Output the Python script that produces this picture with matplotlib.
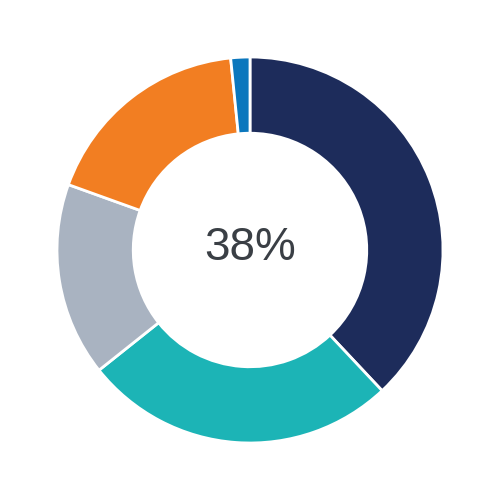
import matplotlib.pyplot as plt

# share of each slice, clockwise from the top
labels = ['Navy', 'Teal', 'Gray', 'Orange', 'Blue']
values = [38, 26.3, 16.2, 17.9, 1.6]
colors = ['#1d2c5b', '#1cb4b6', '#a9b3c1', '#f27e22', '#0b77bd']
center_text = '38%'

fig = plt.figure(figsize=(5, 5), dpi=100)
ax = fig.add_axes([0, 0, 1, 1])

ax.pie(values, colors=colors, startangle=90, counterclock=False, radius=1,
       wedgeprops=dict(width=0.395, edgecolor='white', linewidth=2))
ax.text(0, 0.01, center_text, ha='center', va='center', fontsize=33,
        color='#3a3f45', family=['Liberation Sans', 'DejaVu Sans'])

lim = 250 / 193
ax.set_xlim(-lim, lim)
ax.set_ylim(-lim, lim)
ax.set_aspect('equal')
ax.axis('off')

plt.savefig('out.png', dpi=100, facecolor='white')
